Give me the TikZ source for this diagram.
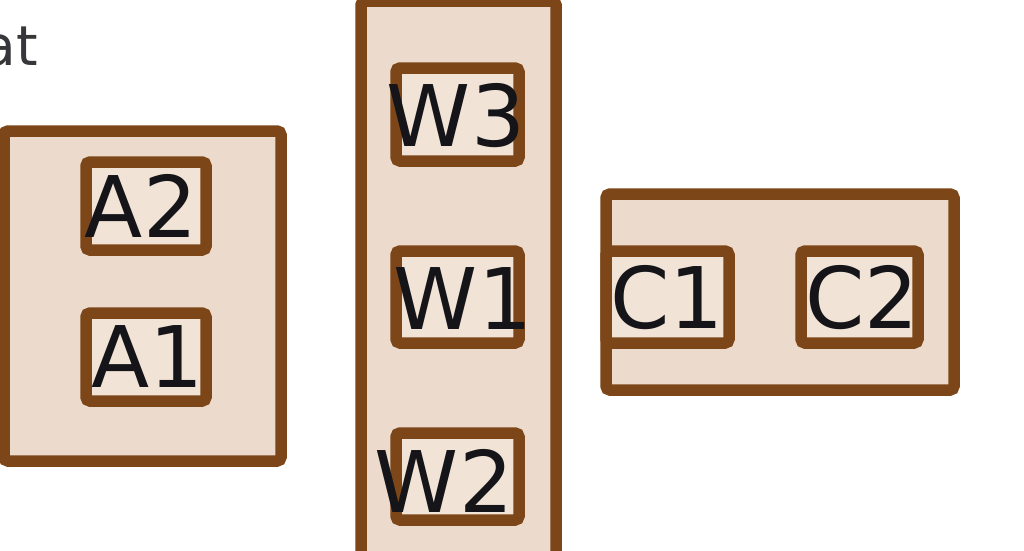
\documentclass[tikz,border=0pt]{standalone}
\usepackage{fontspec}
\setmainfont{DejaVu Sans}
\definecolor{brd}{RGB}{125,70,25}
\definecolor{outerfill}{RGB}{236,219,204}
\definecolor{innerfill}{RGB}{241,227,214}
\definecolor{txt}{RGB}{20,20,25}
\tikzset{
  grp/.style={draw=brd, fill=outerfill, line width=11.5pt, rounded corners=4pt, inner sep=0pt},
  cell/.style={draw=brd, fill=innerfill, line width=11.5pt, rounded corners=4pt, inner sep=0pt},
  lbl/.style={text=txt, inner sep=0pt, font=\fontsize{85}{90}\selectfont},
  captext/.style={text=txt!85!white, inner sep=0pt, font=\fontsize{55}{60}\selectfont}
}
\begin{document}
\begin{tikzpicture}[x=1pt,y=-1pt]
\useasboundingbox (0,0) rectangle (1024,550);
\clip (0,0) rectangle (1024,550);
\fill[white] (0,0) rectangle (1024,550);
% caption fragment
\node[captext, anchor=base east] (capt) at (38,65) {at};
% group A
\node[grp, minimum width=277pt, minimum height=330pt] (A) at (142.5,296) {};
\node[cell, minimum width=120pt, minimum height=88pt] (A2) at (146,206) {};
\node[cell, minimum width=120pt, minimum height=88pt] (A1) at (146,357) {};
\node[lbl] (A2t) at (141,206) {A2};
\node[lbl] (A1t) at (147.5,357) {A1};
% group W
\node[grp, minimum width=195pt, minimum height=640pt] (W) at (458.5,321) {};
\node[cell, minimum width=123pt, minimum height=93pt] (W3) at (457.5,114.5) {};
\node[cell, minimum width=123pt, minimum height=92pt] (W1) at (457.5,297) {};
\node[cell, minimum width=123pt, minimum height=87pt] (W2) at (457.5,476.5) {};
\node[lbl] (W3t) at (456,116) {W3};
\node[lbl] (W1t) at (463,299) {W1};
\node[lbl] (W2t) at (444,481) {W2};
% group C
\node[grp, minimum width=348pt, minimum height=196pt] (C) at (780,292) {};
\node[cell, minimum width=123pt, minimum height=92pt] (C1) at (667.5,297) {};
\node[cell, minimum width=117pt, minimum height=92pt] (C2) at (859.5,297) {};
\node[lbl] (C1t) at (667,298) {C1};
\node[lbl] (C2t) at (862,298) {C2};
\end{tikzpicture}
\end{document}
